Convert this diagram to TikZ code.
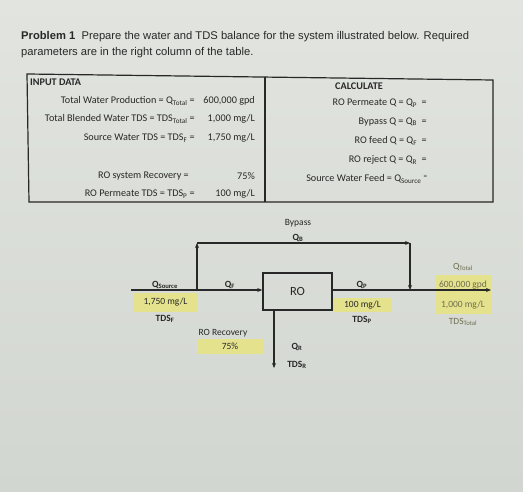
\documentclass[tikz,border=0pt]{standalone}
\usepackage{fontspec}
\setmainfont{Carlito}
\newfontfamily\titlefont{Liberation Sans}
\usetikzlibrary{arrows.meta}
\definecolor{paper}{RGB}{226,229,223}
\definecolor{paperdark}{RGB}{210,214,208}
\definecolor{ink}{RGB}{40,40,40}
\definecolor{hl}{RGB}{228,226,140}
\definecolor{faint}{RGB}{110,110,80}
\tikzset{
  lbl/.style={inner sep=0pt, text=ink, font=\fontsize{10.2}{12}\selectfont},
  blbl/.style={lbl, font=\fontsize{10.2}{12}\selectfont\bfseries},
  dlbl/.style={inner sep=0pt, text=ink, font=\fontsize{9.5}{11}\selectfont},
  dblbl/.style={dlbl, font=\fontsize{9.5}{11}\selectfont\bfseries},
  hlbox/.style={fill=hl, inner sep=0pt, text=ink, font=\fontsize{9.5}{11}\selectfont},
  flow/.style={draw=ink, line width=1.1pt, -{Stealth[length=5pt,width=4pt]}},
  plain/.style={draw=ink, line width=1.1pt},
}
\begin{document}
\begin{tikzpicture}[x=1pt,y=-1pt]
\shade[top color=paper, bottom color=paperdark] (0,0) rectangle (523,492);
\useasboundingbox (0,0) rectangle (523,492);
% title
\node[anchor=west, inner sep=0pt, text=ink, font=\titlefont\fontsize{11.2}{13}\selectfont] (t1) at (21,37) {\textbf{Problem 1}\ \ Prepare the water and TDS balance for the system illustrated below. Required};
\node[anchor=west, inner sep=0pt, text=ink, font=\titlefont\fontsize{11.2}{13}\selectfont] (t2) at (21,53) {parameters are in the right column of the table.};
% table
\draw[ink, line width=1.2pt] (27,74) -- (493,80) -- (493,202) -- (29,202) -- cycle;
\draw[ink, line width=1.2pt] (265,77) -- (265,202);
\node[blbl, anchor=west] (inhd) at (30,82) {INPUT DATA};
\node[lbl, anchor=east] (l1) at (195,101) {Total Water Production = Q\textsubscript{Total} =};
\node[lbl, anchor=east] (l2) at (195,119) {Total Blended Water TDS = TDS\textsubscript{Total} =};
\node[lbl, anchor=east] (l3) at (195,138) {Source Water TDS = TDS\textsubscript{F} =};
\node[lbl, anchor=east] (l4) at (189,176) {RO system Recovery =};
\node[lbl, anchor=east] (l5) at (195,194) {RO Permeate TDS = TDS\textsubscript{P} =};
\node[lbl, anchor=east] (v1) at (255,101) {600,000 gpd};
\node[lbl, anchor=east] (v2) at (255,119) {1,000 mg/L};
\node[lbl, anchor=east] (v3) at (255,138) {1,750 mg/L};
\node[lbl, anchor=east] (v4) at (255,176) {75\%};
\node[lbl, anchor=east] (v5) at (255,194) {100 mg/L};
\node[blbl] (calc) at (359,86) {CALCULATE};
\node[lbl, anchor=east] (c1) at (427,103) {RO Permeate Q = Q\textsubscript{P} \ =};
\node[lbl, anchor=east] (c2) at (427,122) {Bypass Q = Q\textsubscript{B} \ =};
\node[lbl, anchor=east] (c3) at (427,141) {RO feed Q = Q\textsubscript{F} \ =};
\node[lbl, anchor=east] (c4) at (427,160) {RO reject Q = Q\textsubscript{R} \ =};
\node[lbl, anchor=east] (c5) at (428,179) {Source Water Feed = Q\textsubscript{Source} \textsuperscript{=}};
% diagram
\node[draw=ink, line width=1.5pt, minimum width=69pt, minimum height=37pt, inner sep=0pt, text=ink, font=\fontsize{12.5}{14}\selectfont] (ro) at (297.5,291.5) {RO};
\coordinate (src) at (131,290);
\coordinate (split) at (197,290);
\coordinate (bl) at (197,243);
\coordinate (br) at (410,243);
\coordinate (join) at (410,290);
\coordinate (out) at (491,290);
\coordinate (rejtop) at (274,310);
\coordinate (rej) at (274,368);
\draw[plain] (src) -- (split);
\draw[flow] (split) -- (ro.west |- split);
\draw[flow] (split) -- (bl);
\draw[flow] (bl) -- (br);
\draw[flow] (br) -- (join);
\draw[flow] (rejtop) -- (rej);
% diagram labels
\node[dlbl] (byp) at (298,223) {Bypass};
\node[dblbl] (qb) at (298,238) {Q\textsubscript{B}};
\node[dblbl] (qs) at (165,285) {Q\textsubscript{Source}};
\node[dblbl] (qf) at (230,285) {Q\textsubscript{F}};
\node[hlbox, minimum width=65pt, minimum height=19pt] (tdsfv) at (165.5,302.5) {1,750 mg/L};
\node[dblbl] (tdsf) at (165,319) {TDS\textsubscript{F}};
\node[dlbl] (rorec) at (223,333) {RO Recovery};
\node[hlbox, minimum width=66pt, minimum height=15pt] (recv) at (230,346.5) {75\%};
\node[dblbl] (qr) at (297,347) {Q\textsubscript{R}};
\node[dblbl] (tdsr) at (297,365) {TDS\textsubscript{R}};
\node[dblbl] (qp) at (362,285) {Q\textsubscript{P}};
\node[hlbox, minimum width=59pt, minimum height=14pt] (tdspv) at (362.5,305) {100 mg/L};
\node[dblbl] (tdsp) at (362,320) {TDS\textsubscript{P}};
\node[dlbl, text=faint] (qt) at (463,267) {Q\textsubscript{Total}};
\node[fill=hl, inner sep=0pt, minimum width=56pt, minimum height=39pt] (totbox) at (463,294.5) {};
\node[dlbl, text=faint] (qtv) at (463,285) {600,000 gpd};
\node[dlbl, text=faint] (tdstv) at (463,305) {1,000 mg/L};
\node[dlbl, text=faint] (tdst) at (463,322) {TDS\textsubscript{Total}};
\draw[flow] (ro.east |- join) -- (out);
\end{tikzpicture}
\end{document}
